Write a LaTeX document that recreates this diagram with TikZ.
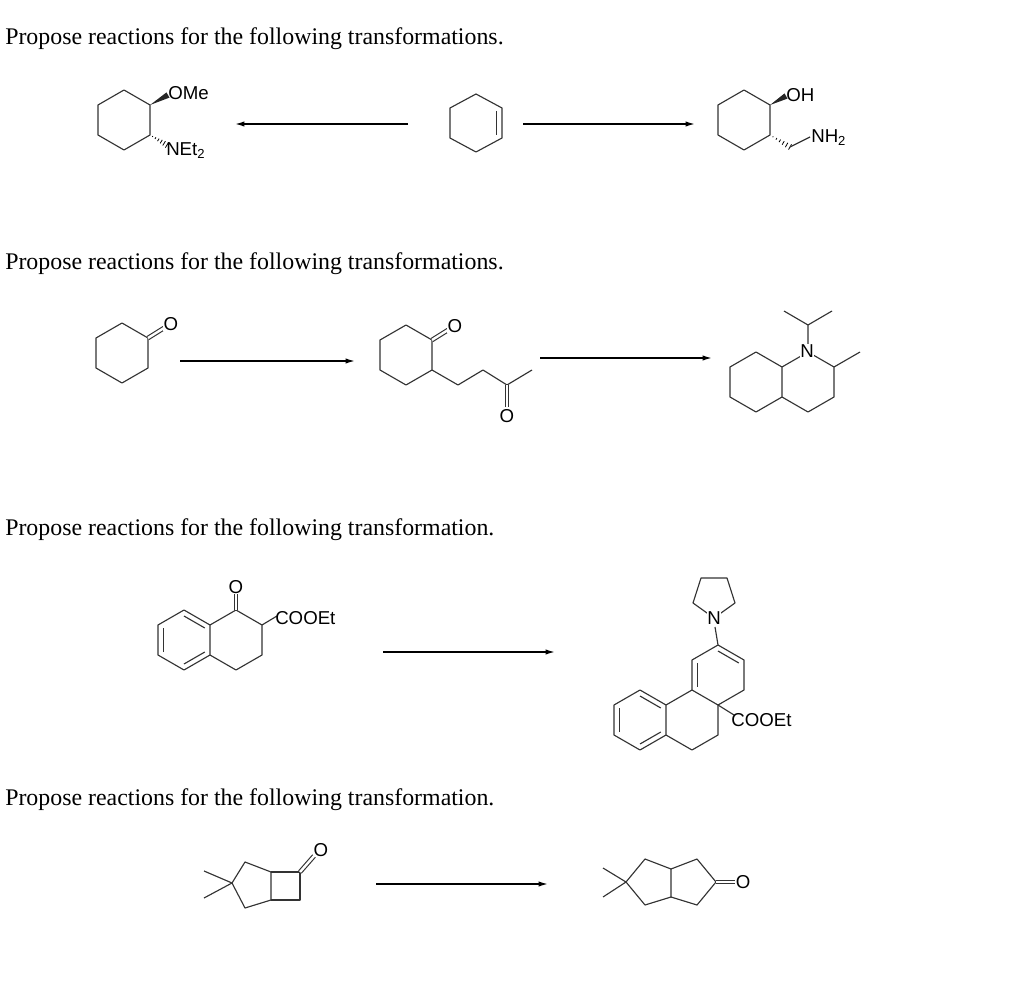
\documentclass[tikz,border=0pt]{standalone}
\usepackage{fontspec}
\setmainfont{Liberation Serif}
\setsansfont{Liberation Sans}
\usetikzlibrary{calc,arrows.meta}
\begin{document}
\begin{tikzpicture}[x=0.75pt,y=-0.75pt,
  bond/.style={line width=0.85pt,draw=black!80,line join=round},
  dbl/.style={line width=0.85pt,draw=black!80,double=white,double distance=1.8pt},
  rxn/.style={line width=1.1pt,-{Latex[length=7pt,width=4pt]}},
  title/.style={anchor=base west,inner sep=0pt,font=\fontsize{17.9}{19}\selectfont},
  atom/.style={font=\sffamily\fontsize{14}{15}\selectfont,inner sep=0.5pt,fill=white},
  lab/.style={font=\sffamily\fontsize{14}{15}\selectfont,inner sep=0pt,anchor=west}]
\useasboundingbox (0,0) rectangle (1023,998);
\newcommand{\innerb}[3]{\draw[bond] ($(#1)!0.2!(#3)$) -- ($(#2)!0.2!(#3)$);}
\newcommand{\hashb}[4]{\foreach \t in {0.15,0.32,0.49,0.66,0.83,1.0}{\draw[line width=0.6pt] ($(#1)!\t!(#2)+(\t*#3,\t*#4)$) -- ($(#1)!\t!(#2)-(\t*#3,\t*#4)$);}}
% titles
\node[title] (t1) at (5,45) {Propose reactions for the following transformations.};
\node[title] (t2) at (5,270) {Propose reactions for the following transformations.};
\node[title] (t3) at (5,535) {Propose reactions for the following transformation.};
\node[title] (t4) at (5,805) {Propose reactions for the following transformation.};
% ---- row 1
\draw[bond] (124,90)--(150,105)--(150,135)--(124,150)--(98,135)--(98,105)--cycle;
\fill[black!85] (150,105)--(169.5,97.6)--(166.5,92.4)--cycle;
\node[lab] (ome) at (168,93) {OMe};
\hashb{150,135}{167,145}{-1.6}{2.6}
\node[lab] (net) at (166,151) {NEt\textsubscript{2}};
\draw[bond] (476,94)--(502,108)--(502,138)--(476,152)--(450,138)--(450,108)--cycle;
\coordinate (ce) at (476,123);
\coordinate (ce1) at (502,108); \coordinate (ce2) at (502,138);
\innerb{ce1}{ce2}{ce}
\draw[rxn] (408,124)--(235,124);
\draw[rxn] (523,124)--(695,124);
\draw[bond] (744,90)--(770,105)--(770,135)--(744,150)--(718,135)--(718,105)--cycle;
\fill[black!85] (770,105)--(787.5,98.6)--(784.5,93.4)--cycle;
\node[lab] (oh) at (786,95) {OH};
\hashb{770,135}{790,147}{-1.5}{2.6}
\draw[bond] (790,147)--(810,137);
\node[lab] (nh2) at (811,138) {NH\textsubscript{2}};
% ---- row 2
\draw[bond] (122,323)--(148,338)--(148,368)--(122,383)--(96,368)--(96,338)--cycle;
\draw[dbl] (148,338)--(164,328);
\node[atom] (o1) at (171,324) {O};
\draw[rxn] (180,361)--(355,361);
\draw[bond] (406,325)--(432,340)--(432,370)--(406,385)--(380,370)--(380,340)--cycle;
\draw[dbl] (432,340)--(448,330);
\node[atom] (o2) at (455,326) {O};
\draw[bond] (432,370)--(458,385)--(483,370)--(507,385)--(532,370);
\draw[dbl] (507,385)--(507,407);
\node[atom] (o3) at (507,416) {O};
\draw[rxn] (540,358)--(712,358);
\draw[bond] (756,352)--(782,367)--(782,397)--(756,412)--(730,397)--(730,367)--cycle;
\draw[bond] (782,367)--(808,352)--(834,367)--(834,397)--(808,412)--(782,397);
\draw[bond] (834,367)--(860,352);
\draw[bond] (808,352)--(808,325)--(784,311);
\draw[bond] (808,325)--(832,311);
\node[atom] (n1) at (807,351) {N};
% ---- row 3
\draw[bond] (184,610)--(210,625)--(210,655)--(184,670)--(158,655)--(158,625)--cycle;
\coordinate (ca) at (184,640);
\coordinate (a1) at (184,610); \coordinate (a2) at (210,625); \coordinate (a3) at (210,655);
\coordinate (a4) at (184,670); \coordinate (a5) at (158,655); \coordinate (a6) at (158,625);
\innerb{a1}{a2}{ca} \innerb{a3}{a4}{ca} \innerb{a5}{a6}{ca}
\draw[bond] (210,625)--(236,610)--(262,625)--(262,655)--(236,670)--(210,655);
\draw[dbl] (236,610)--(236,594);
\node[atom] (o4) at (236,587) {O};
\draw[bond] (262,625)--(277,616);
\node[lab] (e1) at (275,618) {COOEt};
\draw[rxn] (383,652)--(555,652);
\draw[bond] (640,690)--(666,705)--(666,735)--(640,750)--(614,735)--(614,705)--cycle;
\coordinate (cb) at (640,720);
\coordinate (b1) at (640,690); \coordinate (b2) at (666,705); \coordinate (b3) at (666,735);
\coordinate (b4) at (640,750); \coordinate (b5) at (614,735); \coordinate (b6) at (614,705);
\innerb{b1}{b2}{cb} \innerb{b3}{b4}{cb} \innerb{b5}{b6}{cb}
\draw[bond] (666,705)--(692,690)--(718,705)--(718,735)--(692,750)--(666,735);
\draw[bond] (692,690)--(692,660)--(718,645)--(744,660)--(744,690)--(718,705);
\coordinate (cu) at (718,675);
\coordinate (u1) at (692,660); \coordinate (u2) at (692,690);
\coordinate (u3) at (718,645); \coordinate (u4) at (744,660);
\innerb{u1}{u2}{cu} \innerb{u3}{u4}{cu}
\draw[bond] (718,645)--(715,627);
\draw[bond] (714,618)--(693,603)--(701,578)--(727,578)--(735,603)--cycle;
\node[atom] (n2) at (714,618) {N};
\draw[bond] (718,705)--(734,715);
\node[lab] (e2) at (731,720) {COOEt};
% ---- row 4
\draw[bond] (232,883)--(245,862)--(271,872)--(271,900)--(245,908)--cycle;
\draw[bond] (204,871)--(232,883)--(204,898);
\draw[bond] (271,872)--(300,872)--(300,900)--(271,900);
\draw[dbl] (300,872)--(314,856);
\node[atom] (o5) at (321,850) {O};
\draw[rxn] (376,884)--(548,884);
\draw[bond] (626,882)--(645,859)--(671,869)--(671,897)--(645,905)--cycle;
\draw[bond] (603,868)--(626,882)--(603,897);
\draw[bond] (671,869)--(697,859)--(716,882)--(697,905)--(671,897);
\draw[dbl] (716,882)--(735,882);
\node[atom] (o6) at (743,882) {O};
\end{tikzpicture}
\end{document}
